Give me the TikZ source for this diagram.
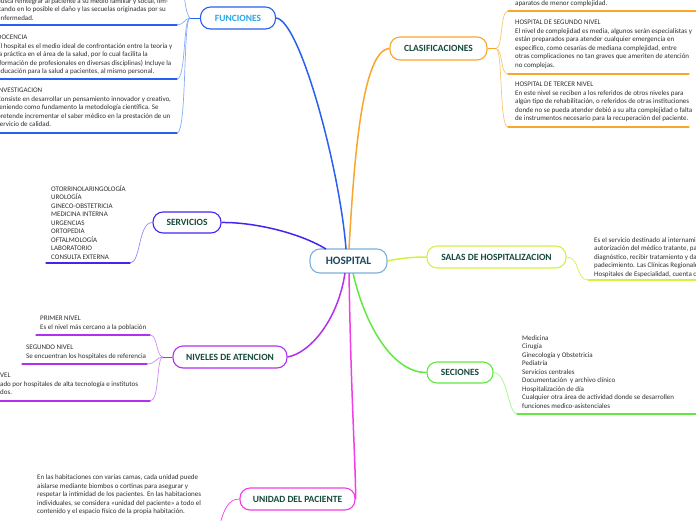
\documentclass[tikz,border=0pt]{standalone}
\usepackage{fontspec}
\setmainfont{Carlito}
\definecolor{fblue}{HTML}{2A5FF0}
\definecolor{flight}{HTML}{8AABF6}
\definecolor{ftext}{HTML}{2BA6E8}
\definecolor{corange}{HTML}{F9A62B}
\definecolor{corlight}{HTML}{FBC46E}
\definecolor{sblue}{HTML}{4326EE}
\definecolor{slight}{HTML}{9A88F6}
\definecolor{salas}{HTML}{D3F044}
\definecolor{nivel}{HTML}{B231EF}
\definecolor{nlight}{HTML}{CE8CF6}
\definecolor{secg}{HTML}{62E840}
\definecolor{seclight}{HTML}{A8F290}
\definecolor{umag}{HTML}{F23DE6}
\definecolor{hborder}{HTML}{7BAFDC}
\definecolor{htext}{HTML}{1C4B5F}
\definecolor{tgreen}{HTML}{154A3C}
\definecolor{bodygray}{HTML}{2E2E2E}
\tikzset{
  topic/.style={draw, rounded corners=10pt, line width=1.1pt, fill=white,
    font=\fontsize{9.5}{10}\selectfont\bfseries, text=tgreen, inner sep=0pt},
  body/.style={font=\fontsize{7}{8.5}\selectfont, text=bodygray, align=left,
    anchor=north west, inner sep=0pt},
  mainline/.style={line width=1.5pt},
  subline/.style={line width=0.7pt},
  uline/.style={line width=1.3pt, line cap=round},
}
\begin{document}
\begin{tikzpicture}[x=1pt,y=-1pt]
\useasboundingbox (0,0) rectangle (696,520);
\clip (0,0) rectangle (696,520);

% ---------- topic nodes ----------
\node[topic, draw=hborder, minimum width=77pt, minimum height=24pt,
  font=\fontsize{11.3}{12}\selectfont\bfseries, text=htext] (hosp) at (348.5,261) {HOSPITAL};
\node[topic, draw=fblue, text=ftext, minimum width=75pt, minimum height=22pt] (fun) at (238,18) {FUNCIONES};
\node[topic, draw=corange, minimum width=97pt, minimum height=23pt] (cla) at (438.5,48.5) {CLASIFICACIONES};
\node[topic, draw=sblue, minimum width=68pt, minimum height=21pt] (ser) at (187,222.5) {SERVICIOS};
\node[topic, draw=salas, minimum width=139pt, minimum height=22pt] (sal) at (496.5,257) {SALAS DE HOSPITALIZACION};
\node[topic, draw=nivel, minimum width=114pt, minimum height=22pt] (niv) at (230,357) {NIVELES DE ATENCION};
\node[topic, draw=secg, minimum width=66pt, minimum height=21pt] (sec) at (460,372.5) {SECIONES};
\node[topic, draw=umag, minimum width=115pt, minimum height=22pt] (uni) at (297.5,499) {UNIDAD DEL PACIENTE};

% ---------- main connectors ----------
\coordinate (hf) at (346,249);
\coordinate (hc) at (349,249);
\coordinate (hs) at (326,249);
\coordinate (hn) at (345,273);
\coordinate (hu) at (349,273);
\coordinate (hg) at (353,273);
\draw[mainline, fblue] (fun.east) .. controls (300,20) and (340,170) .. (hf);
\draw[mainline, corange] (hc) .. controls (354,160) and (362,50) .. (cla.west);
\draw[mainline, sblue] (ser.east) .. controls (252,222) and (298,232) .. (hs);
\draw[mainline, salas] (hosp.east) .. controls (400,258) and (415,257) .. (sal.west);
\draw[mainline, nivel] (hn) .. controls (338,320) and (310,353) .. (niv.east);
\draw[mainline, secg] (hg) .. controls (366,330) and (395,373) .. (sec.west);
\draw[mainline, umag] (hu) .. controls (351,400) and (356,470) .. (uni.east);

% ---------- FUNCIONES children ----------
\coordinate (fj) at (190,18);
\draw[line width=1pt, fblue] (fun.west) -- (fj);
\coordinate (f0) at (184,-6);
\coordinate (f1) at (177,25);
\coordinate (f2) at (177,79);
\coordinate (f3) at (177,133);
\draw[subline, flight] (fj) .. controls (186,14) and (185,2) .. (f0);
\draw[subline, flight] (fj) .. controls (185,18) and (184,25) .. (f1);
\draw[subline, flight] (fj) .. controls (183,18) and (186,79) .. (f2);
\draw[subline, flight] (fj) .. controls (183,18) and (187,133) .. (f3);
\coordinate (f1s) at (-5,25);
\coordinate (f2s) at (-5,79);
\coordinate (f3s) at (-5,133);
\draw[uline, fblue] (f1s) -- (f1);
\draw[uline, fblue] (f2s) -- (f2);
\draw[uline, fblue] (f3s) -- (f3);
\node[body] (ft1) at (-3,-2) {busca reintegrar al paciente a su medio familiar y social, lim-\\
itando en lo posible el daño y las secuelas originadas por su\\
enfermedad.};
\node[body] (ft2) at (-3,35) {DOCENCIA\\
El hospital es el medio ideal de confrontación entre la teoría y\\
la práctica en el área de la salud, por lo cual facilita la\\
(formación de profesionales en diversas disciplinas) Incluye la\\
educación para la salud a pacientes, al mismo personal.};
\node[body] (ft3) at (-3,88) {INVESTIGACION\\
Consiste en desarrollar un pensamiento innovador y creativo,\\
teniendo como fundamento la metodología científica. Se\\
pretende incrementar el saber médico en la prestación de un\\
servicio de calidad.};

% ---------- CLASIFICACIONES children ----------
\coordinate (cj) at (496,48.5);
\draw[line width=1pt, corange] (cla.east) -- (cj);
\coordinate (c1) at (508,11);
\coordinate (c2) at (508,74);
\coordinate (c3) at (508,127);
\draw[subline, corlight] (cj) .. controls (503,48) and (500,11) .. (c1);
\draw[subline, corlight] (cj) .. controls (503,49) and (500,74) .. (c2);
\draw[subline, corlight] (cj) .. controls (503,49) and (499,127) .. (c3);
\coordinate (c1e) at (700,11);
\coordinate (c2e) at (689,74);
\coordinate (c3e) at (689,127);
\draw[uline, corange] (c1) -- (c1e);
\draw[uline, corange] (c2) -- (c2e);
\draw[uline, corange] (c3) -- (c3e);
\node[body] (ct1) at (515,0) {aparatos de menor complejidad.};
\node[body] (ct2) at (515,20) {HOSPITAL DE SEGUNDO NIVEL\\
El nivel de complejidad es media, algunos serán especialistas y\\
están preparados para atender cualquier emergencia en\\
específico, como cesarías de mediana complejidad, entre\\
otras complicaciones no tan graves que ameriten de atención\\
no complejas.};
\node[body] (ct3) at (515,82) {HOSPITAL DE TERCER NIVEL\\
En este nivel se reciben a los referidos de otros niveles para\\
algún tipo de rehabilitación, o referidos de otras instituciones\\
donde no se pueda atender debió a su alta complejidad o falta\\
de instrumentos necesario para la recuperación del paciente.};

% ---------- SERVICIOS children ----------
\coordinate (s1) at (130,263);
\coordinate (s1s) at (46,263);
\draw[subline, slight] (ser.west) .. controls (138,222) and (141,263) .. (s1);
\draw[uline, sblue] (s1s) -- (s1);
\node[body] (st) at (51,185) {OTORRINOLARINGOLOGÍA\\
UROLOGÍA\\
GINECO-OBSTETRICIA\\
MEDICINA INTERNA\\
URGENCIAS\\
ORTOPEDIA\\
OFTALMOLOGÍA\\
LABORATORIO\\
CONSULTA EXTERNA};

% ---------- SALAS children ----------
\coordinate (a1) at (588,280);
\coordinate (a1e) at (700,280);
\draw[subline, salas] (sal.east) .. controls (580,257) and (576,280) .. (a1);
\draw[uline, salas] (a1) -- (a1e);
\node[body] (at) at (594,237) {Es el servicio destinado al internamie\\
autorización del médico tratante, par\\
diagnóstico, recibir tratamiento y dar\\
padecimiento. Las Clínicas Regionale\\
Hospitales de Especialidad, cuenta co};

% ---------- NIVELES children ----------
\coordinate (nj) at (163,357);
\draw[line width=1pt, nivel] (niv.west) -- (nj);
\coordinate (n1) at (150,335);
\coordinate (n2) at (147,364);
\coordinate (n3) at (150,401);
\draw[subline, nlight] (nj) .. controls (156,357) and (158,335) .. (n1);
\draw[subline, nlight] (nj) .. controls (156,357) and (156,364) .. (n2);
\draw[subline, nlight] (nj) .. controls (156,357) and (160,401) .. (n3);
\coordinate (n1s) at (36,335);
\coordinate (n2s) at (22,364);
\coordinate (n3s) at (-5,401);
\draw[uline, nivel] (n1s) -- (n1);
\draw[uline, nivel] (n2s) -- (n2);
\draw[uline, nivel] (n3s) -- (n3);
\node[body] (nt1) at (40,316) {PRIMER NIVEL\\ Es el nivel más cercano a la población};
\node[body] (nt2) at (26,345) {SEGUNDO NIVEL\\ Se encuentran los hospitales de referencia};
\node[body] (nt3) at (0,373) {VEL\\ ado por hospitales de alta tecnología e institutos\\ dos.};

% ---------- SECIONES children ----------
\coordinate (g1) at (517,414);
\coordinate (g1e) at (700,414);
\draw[subline, seclight] (sec.east) .. controls (508,373) and (508,414) .. (g1);
\draw[uline, secg] (g1) -- (g1e);
\node[body] (gt) at (522,335) {Medicina\\
Cirugía\\
Ginecología y Obstetricia\\
Pediatría\\
Servicios centrales\\
Documentación \ y archivo clínico\\
Hospitalización de día\\
Cualquier otra área de actividad donde se desarrollen\\
funciones medico-asistenciales};

% ---------- UNIDAD children ----------
\coordinate (u1) at (220,524);
\draw[subline, umag] (uni.west) .. controls (228,499) and (224,510) .. (u1);
\node[body] (ut) at (37,474.5) {En las habitaciones con varias camas, cada unidad puede\\
aislarse mediante biombos o cortinas para asegurar y\\
respetar la intimidad de los pacientes. En las habitaciones\\
individuales, se considera «unidad del paciente» a todo el\\
contenido y el espacio físico de la propia habitación.};
\end{tikzpicture}
\end{document}
